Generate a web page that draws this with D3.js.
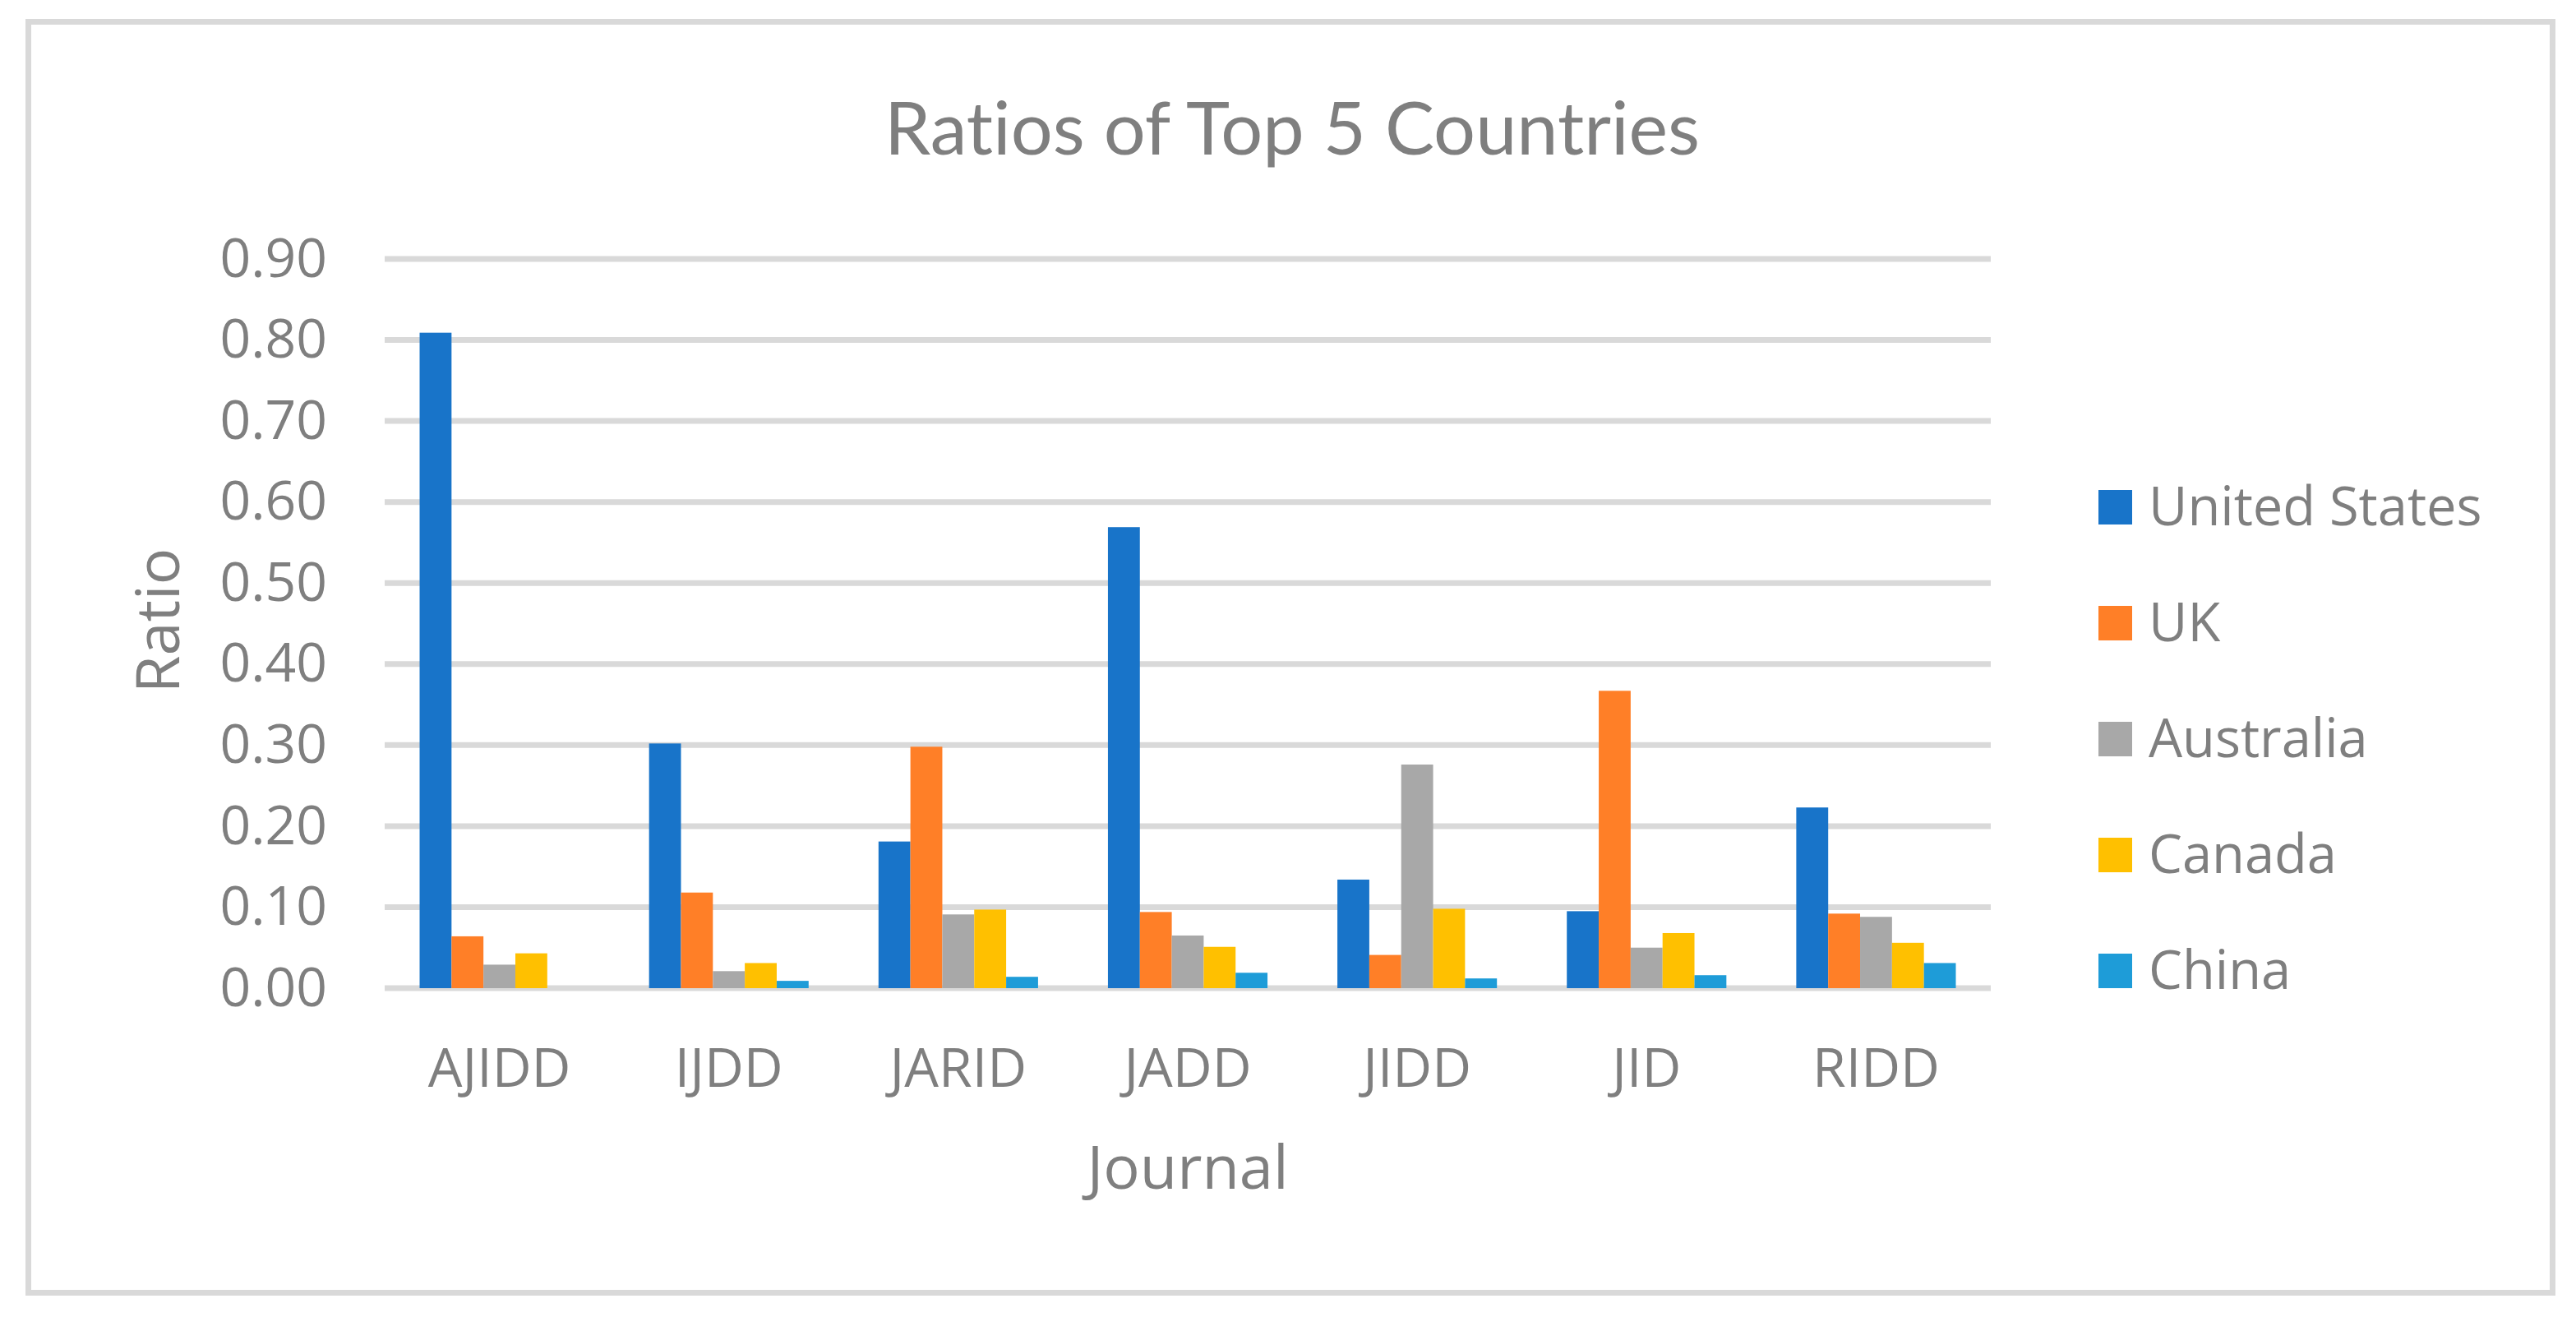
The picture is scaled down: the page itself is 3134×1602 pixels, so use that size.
<!DOCTYPE html>
<meta charset="utf-8">
<script src="https://d3js.org/d3.v7.min.js"></script>
<style>
  body { margin: 0; background: #fff; }
  text { font-family: "Open Sans", sans-serif; fill: #7f7f7f; font-variant-ligatures: none; }
</style>
<body>
<div id="chart"></div>
<script>
// chart data
var journals = ["AJIDD", "IJDD", "JARID", "JADD", "JIDD", "JID", "RIDD"];
var countries = ["United States", "UK", "Australia", "Canada", "China"];
var colors = ["#1874c9", "#ff7f27", "#a8a8a8", "#ffc000", "#1e9cd8"];
var unitedStates = [0.809, 0.302, 0.181, 0.569, 0.134, 0.095, 0.223];
var uk = [0.064, 0.118, 0.298, 0.094, 0.041, 0.367, 0.092];
var australia = [0.029, 0.021, 0.091, 0.065, 0.276, 0.050, 0.088];
var canada = [0.043, 0.031, 0.097, 0.051, 0.098, 0.068, 0.056];
var china = [0.000, 0.009, 0.014, 0.019, 0.012, 0.016, 0.031];
var yTicks = [0, 0.1, 0.2, 0.3, 0.4, 0.5, 0.6, 0.7, 0.8, 0.9];

var series = [unitedStates, uk, australia, canada, china];

var width = 3134, height = 1602;

var svg = d3.select("#chart")
  .append("svg")
    .attr("width", width)
    .attr("height", height);

// outer frame
svg.append("rect")
  .attr("x", 34.5).attr("y", 26.5)
  .attr("width", 3071).attr("height", 1546)
  .attr("fill", "#fff")
  .attr("stroke", "#d9d9d9")
  .attr("stroke-width", 7);

var plot = {left: 468, right: 2422, top: 315, bottom: 1202};

var y = d3.scaleLinear()
  .domain([0, 0.9])
  .range([plot.bottom, plot.top]);

var x0 = d3.scaleBand()
  .domain(journals)
  .range([plot.left, plot.right])
  .paddingInner(0.3046)
  .paddingOuter(0.1523);

var x1 = d3.scaleBand()
  .domain(countries)
  .range([0, x0.bandwidth()]);

// gridlines
svg.append("g")
  .selectAll("line")
  .data(yTicks)
  .join("line")
    .attr("x1", plot.left)
    .attr("x2", plot.right)
    .attr("y1", function(d) { return y(d); })
    .attr("y2", function(d) { return y(d); })
    .attr("stroke", "#d9d9d9")
    .attr("stroke-width", 7);

// y tick labels
var yAxis = svg.append("g")
  .attr("transform", "translate(" + (plot.left - 70) + ",0)")
  .call(d3.axisLeft(y).tickValues(yTicks).tickFormat(d3.format(".2f")).tickSize(0).tickPadding(0));
yAxis.select(".domain").remove();
yAxis.selectAll("text")
  .attr("font-family", "Open Sans")
  .attr("font-size", 66)
  .attr("fill", "#7f7f7f")
  .attr("dy", "0.32em");

// bars
countries.forEach(function(c, i) {
  svg.append("g")
    .selectAll("rect")
    .data(series[i])
    .join("rect")
      .attr("x", function(d, j) { return x0(journals[j]) + x1(c); })
      .attr("y", function(d) { return y(d); })
      .attr("width", x1.bandwidth())
      .attr("height", function(d) { return y(0) - y(d); })
      .attr("fill", colors[i]);
});

// x labels
var xAxis = svg.append("g")
  .attr("transform", "translate(0," + plot.bottom + ")")
  .call(d3.axisBottom(x0).tickSize(0).tickPadding(0));
xAxis.select(".domain").remove();
xAxis.selectAll("text")
  .attr("font-family", "Open Sans")
  .attr("font-size", 66)
  .attr("fill", "#7f7f7f")
  .attr("dy", null)
  .attr("y", 120);

// title
svg.append("text")
  .attr("x", 1572)
  .attr("y", 188)
  .attr("text-anchor", "middle")
  .style("font-family", "Lato")
  .style("font-size", "90px")
  .text("Ratios of Top 5 Countries");

// axis titles
svg.append("text")
  .attr("x", (plot.left + plot.right) / 2)
  .attr("y", 1446)
  .attr("text-anchor", "middle")
  .style("font-size", "74px")
  .text("Journal");

svg.append("text")
  .attr("transform", "translate(218,755) rotate(-90)")
  .attr("text-anchor", "middle")
  .style("font-size", "74px")
  .text("Ratio");

// legend
var legend = svg.append("g")
  .selectAll("g")
  .data(countries)
  .join("g")
    .attr("transform", function(d, i) { return "translate(2553," + (617 + i * 141) + ")"; });

legend.append("rect")
  .attr("x", 0).attr("y", -21)
  .attr("width", 41).attr("height", 42)
  .attr("fill", function(d, i) { return colors[i]; });

legend.append("text")
  .attr("x", 61)
  .attr("y", 22)
  .style("font-size", "65px")
  .text(function(d) { return d; });
</script>
</body>
